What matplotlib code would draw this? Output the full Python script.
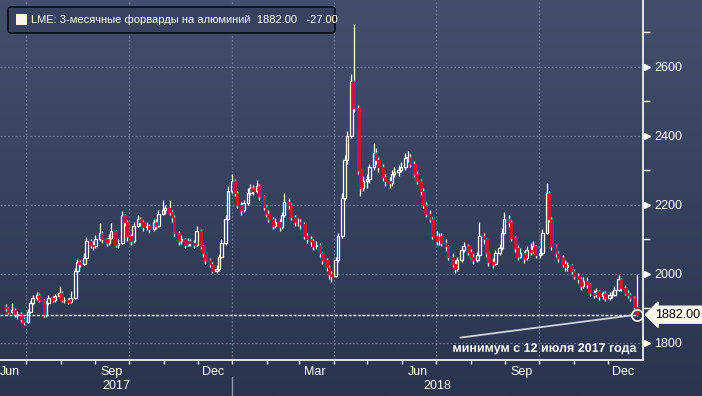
import numpy as np
import pandas as pd
import matplotlib
matplotlib.use("Agg")
import matplotlib.pyplot as plt
import matplotlib.dates as mdates
import matplotlib.patheffects as pe
from matplotlib.colors import LinearSegmentedColormap
from matplotlib.patches import FancyBboxPatch, Rectangle
from matplotlib.transforms import blended_transform_factory

plt.rcParams['font.family'] = ['Liberation Sans', 'DejaVu Sans']

# LME 3-month aluminium, one candle per two trading days (Jun 2017 - Dec 2018)
first_open = 1905
close = [
    1900, 1890, 1895, 1880, 1885, 1870, 1862, 1890,                    # 2017 Jun
    1915, 1930, 1940, 1925, 1880, 1915, 1930, 1925, 1935, 1945, 1925,  # Jul
    1925, 1920, 1930, 2010, 2035, 2030, 2045, 2095, 2085, 2080, 2100,  # Aug
    2120, 2100, 2090, 2105, 2125, 2085, 2090, 2170, 2150, 2110,        # Sep
    2095, 2140, 2160, 2150, 2135, 2140, 2130, 2150, 2140, 2175, 2185,  # Oct
    2190, 2180, 2165, 2120, 2095, 2100, 2085, 2095, 2090, 2085, 2125,  # Nov
    2080, 2060, 2040, 2030, 2010, 2015, 2050, 2090, 2160, 2240,        # Dec
    2270, 2235, 2200, 2185, 2205, 2235, 2250, 2240, 2255, 2225, 2195,  # 2018 Jan
    2175, 2160, 2140, 2150, 2135, 2170, 2210, 2200, 2165, 2150,        # Feb
    2150, 2145, 2110, 2100, 2095, 2080, 2085, 2060, 2040, 2020, 2000,  # Mar
    1995, 2040, 2110, 2220, 2330, 2400, 2560, 2480, 2300, 2250, 2270,  # Apr
    2275, 2310, 2350, 2330, 2310, 2280, 2270, 2265, 2290, 2295, 2300,  # May
    2310, 2335, 2340, 2320, 2290, 2270, 2240, 2200, 2175, 2160, 2110,  # Jun
    2095, 2110, 2090, 2080, 2050, 2030, 2015, 2040, 2070, 2080, 2065,  # Jul
    2050, 2040, 2055, 2110, 2100, 2060, 2035, 2030, 2060, 2075, 2120, 2160,  # Aug
    2150, 2105, 2075, 2050, 2060, 2045, 2070, 2065, 2080, 2055,        # Sep
    2060, 2120, 2235, 2160, 2080, 2060, 2045, 2030, 2020, 2025, 2010, 1995,  # Oct
    1985, 1965, 1980, 1970, 1945, 1940, 1950, 1935, 1945, 1930, 1940,  # Nov
    1940, 1955, 1985, 1960, 1945, 1940, 1930, 1905, 1882,              # Dec
]
high = [
    1912, 1905, 1915, 1900, 1892, 1890, 1875, 1898,
    1922, 1938, 1948, 1945, 1928, 1922, 1940, 1935, 1942, 1965, 1950,
    1932, 1930, 1950, 2018, 2042, 2040, 2060, 2108, 2100, 2095, 2112,
    2148, 2125, 2105, 2115, 2148, 2128, 2100, 2182, 2175, 2155,
    2115, 2150, 2172, 2165, 2155, 2150, 2145, 2160, 2158, 2185, 2215,
    2200, 2215, 2185, 2170, 2125, 2112, 2105, 2105, 2100, 2098, 2138,
    2130, 2085, 2065, 2045, 2035, 2025, 2058, 2100, 2170, 2255,
    2290, 2275, 2240, 2210, 2215, 2248, 2262, 2258, 2272, 2260, 2230,
    2200, 2185, 2165, 2162, 2158, 2180, 2234, 2220, 2205, 2172,
    2162, 2160, 2150, 2118, 2110, 2100, 2095, 2090, 2065, 2045, 2025,
    2010, 2050, 2120, 2235, 2345, 2415, 2580, 2725, 2490, 2305, 2285,
    2290, 2320, 2380, 2365, 2340, 2318, 2290, 2280, 2300, 2310, 2315,
    2325, 2350, 2356, 2348, 2328, 2298, 2275, 2248, 2208, 2185, 2165,
    2125, 2120, 2118, 2100, 2085, 2060, 2040, 2050, 2080, 2092, 2088,
    2072, 2060, 2065, 2150, 2120, 2105, 2065, 2045, 2070, 2088, 2132, 2180,
    2170, 2155, 2110, 2085, 2075, 2068, 2080, 2090, 2095, 2085,
    2075, 2130, 2264, 2240, 2165, 2088, 2068, 2055, 2040, 2035, 2030, 2015,
    2003, 1992, 1992, 1990, 1975, 1955, 1960, 1955, 1952, 1950, 1948,
    1950, 1965, 1997, 1988, 1968, 1955, 1945, 1935, 2000,
]
low = [
    1892, 1884, 1886, 1874, 1870, 1862, 1852, 1858,
    1886, 1910, 1925, 1918, 1876, 1874, 1910, 1918, 1920, 1930, 1918,
    1915, 1912, 1915, 1928, 2005, 2020, 2025, 2040, 2075, 2070, 2075,
    2095, 2090, 2080, 2085, 2100, 2078, 2075, 2088, 2140, 2095,
    2085, 2090, 2135, 2140, 2125, 2128, 2120, 2125, 2130, 2135, 2170,
    2175, 2170, 2150, 2110, 2085, 2088, 2075, 2080, 2080, 2075, 2080,
    2072, 2050, 2030, 2020, 2002, 2004, 2010, 2045, 2085, 2155,
    2235, 2225, 2190, 2170, 2180, 2200, 2230, 2228, 2235, 2215, 2185,
    2165, 2150, 2130, 2132, 2125, 2130, 2165, 2188, 2155, 2140,
    2138, 2130, 2100, 2090, 2080, 2070, 2072, 2050, 2030, 2010, 1985,
    1977, 1990, 2035, 2105, 2215, 2320, 2395, 2470, 2290, 2225, 2240,
    2250, 2265, 2300, 2318, 2295, 2270, 2255, 2250, 2255, 2280, 2285,
    2295, 2300, 2325, 2310, 2280, 2260, 2230, 2190, 2165, 2150, 2100,
    2085, 2085, 2080, 2068, 2040, 2020, 2003, 2008, 2035, 2065, 2055,
    2040, 2030, 2035, 2050, 2088, 2050, 2022, 2018, 2025, 2055, 2070, 2115,
    2135, 2095, 2065, 2040, 2045, 2032, 2040, 2055, 2060, 2045,
    2045, 2055, 2115, 2150, 2070, 2050, 2035, 2020, 2008, 2010, 2000, 1985,
    1975, 1955, 1958, 1960, 1935, 1930, 1932, 1925, 1928, 1922, 1925,
    1930, 1935, 1950, 1952, 1938, 1930, 1922, 1898, 1878,
]
last_change = -27.00
series_name = "LME: 3-месячные форварды на алюминий"
note = "минимум с 12 июля 2017 года"

y_major = [1800, 2000, 2200, 2400, 2600]
y_minor = [1900, 2100, 2300, 2500, 2700]
label_dates = ['2017-06-17', '2017-09-15', '2017-12-15', '2018-03-15',
               '2018-06-15', '2018-09-15', '2018-12-15']
month_labels = ['Jun', 'Sep', 'Dec', 'Mar', 'Jun', 'Sep', 'Dec']

assert len(close) == len(high) == len(low)

dates = pd.bdate_range(end='2018-12-27', periods=len(close), freq='2B')
x = mdates.date2num(dates)
c = np.array(close, dtype=float)
o = np.array([first_open] + close[:-1], dtype=float)
h = np.array(high, dtype=float)
l = np.array(low, dtype=float)
up = c >= o
body_lo = np.minimum(o, c)
body_hi = np.maximum(o, c)

red = '#c4163f'
grid_c = '#66758f'

fig = plt.figure(figsize=(7.02, 3.96), dpi=100)

# background gradient
bg = fig.add_axes([0, 0, 1, 1], zorder=0)
grad = np.linspace(0, 1, 256).reshape(-1, 1)
cmap = LinearSegmentedColormap.from_list('bg', ['#434f6c', '#2a344f'])
bg.imshow(grad, aspect='auto', cmap=cmap, extent=[0, 1, 0, 1], origin='upper')
bg.axis('off')

ax = fig.add_axes([0, 1 - 360 / 396, 643 / 702, 360 / 396], zorder=1)
ax.patch.set_alpha(0)
ax.set_xlim(mdates.date2num(pd.Timestamp('2017-06-08')),
            mdates.date2num(pd.Timestamp('2019-01-01')) + 0.6)
ax.set_ylim(1750.7, 2794)
xl = ax.get_xlim()

# candles
ax.vlines(x, l, body_lo, color='white', lw=0.9, zorder=3)
ax.vlines(x, body_hi, h, color='white', lw=0.9, zorder=3)
w = 2.3
ax.bar(x[up], (c - o)[up], bottom=o[up], width=w, facecolor='none',
       edgecolor='white', lw=0.9, zorder=4)
ax.bar(x[~up], (o - c)[~up], bottom=c[~up], width=w, facecolor=red,
       edgecolor=red, lw=0.7, zorder=4)

# last price line, marker and note
ax.plot([xl[0], x[-1]], [c[-1], c[-1]], color='white', lw=1,
        ls=(0, (2, 1.3)), zorder=5)
ax.plot(x[-1], c[-1], 'o', ms=8, mfc='none', mec='white', mew=1.2, zorder=6)
ax.annotate('', xy=(x[-1], c[-1]), xytext=(-127, -16.5), textcoords='offset points',
            arrowprops=dict(arrowstyle='-', color='#cfd3dc', lw=1.3,
                            shrinkA=0, shrinkB=4), zorder=5)
ax.text(0.991, 0.031, note, transform=ax.transAxes, ha='right', va='center',
        color='white', fontsize=9, fontweight='bold', zorder=6,
        path_effects=[pe.withStroke(linewidth=2, foreground='#2b3550')])

# grid
for q in pd.date_range('2017-07-01', '2018-10-01', freq='QS'):
    ax.axvline(mdates.date2num(q), color=grid_c, lw=0.9, ls=(0, (1.5, 1.5)), zorder=1)
for v in y_major:
    ax.axhline(v, color=grid_c, lw=0.9, ls=(0, (1.5, 1.5)), zorder=1)

for s in ['left', 'top']:
    ax.spines[s].set_visible(False)
for s in ['right', 'bottom']:
    ax.spines[s].set_color('white')
    ax.spines[s].set_linewidth(1.2)

# y axis on the right
ax.yaxis.tick_right()
ax.set_yticks(y_major)
ax.set_yticks(y_minor, minor=True)
ax.tick_params(axis='y', which='major', length=0, pad=8, labelcolor='white', labelsize=9)
ax.tick_params(axis='y', which='minor', length=5, width=1, color='white', direction='out')
tri = blended_transform_factory(ax.transAxes, ax.transData)
ax.plot([1.006] * len(y_major), y_major, ls='none', marker='>', ms=4.5, color='white',
        transform=tri, clip_on=False, zorder=6)

# last price tag
ax.text(1.018, c[-1], f"{c[-1]:.2f}", transform=tri, ha='left', va='center',
        fontsize=9, color='black', zorder=7,
        bbox=dict(boxstyle='larrow,pad=0.2', fc='#fdf6ea', ec='#fdf6ea'))

# x axis
month_starts = mdates.date2num(pd.date_range('2017-07-01', '2018-12-01', freq='MS'))
ax.set_xticks(month_starts, minor=True)
ax.set_xticks(mdates.date2num(pd.to_datetime(label_dates)), month_labels)
ax.tick_params(axis='x', which='major', length=0, pad=4, labelcolor='white', labelsize=9)
ax.tick_params(axis='x', which='minor', length=3, width=1, color='white', direction='out')

y2018 = mdates.date2num(pd.Timestamp('2018-01-01'))
yr = blended_transform_factory(ax.transData, ax.transAxes)
ax.text((xl[0] + y2018) / 2, -0.072, '2017', transform=yr, ha='center', va='center',
        color='white', fontsize=9)
ax.text((y2018 + xl[1]) / 2, -0.072, '2018', transform=yr, ha='center', va='center',
        color='white', fontsize=9)
ax.plot([y2018, y2018], [-0.047, -0.1], color='#8d96a8', lw=1, transform=yr, clip_on=False)

# legend box
fig.patches.append(FancyBboxPatch((8 / 702, 1 - 33 / 396), 327 / 702, 26 / 396,
                                  boxstyle='round,pad=0,rounding_size=0.006',
                                  transform=fig.transFigure, fc='#36425e', ec='black',
                                  lw=1, zorder=5))
fig.patches.append(Rectangle((16 / 702, 1 - 25 / 396), 11 / 702, 11 / 396,
                             transform=fig.transFigure, fc='#fdf3ee', ec='none', zorder=6))
fig.text(31 / 702, 1 - 20 / 396, f"{series_name}  {c[-1]:.2f}   {last_change:.2f}",
         ha='left', va='center', color='white', fontsize=8, zorder=7)

fig.savefig('out.png', dpi=100)
